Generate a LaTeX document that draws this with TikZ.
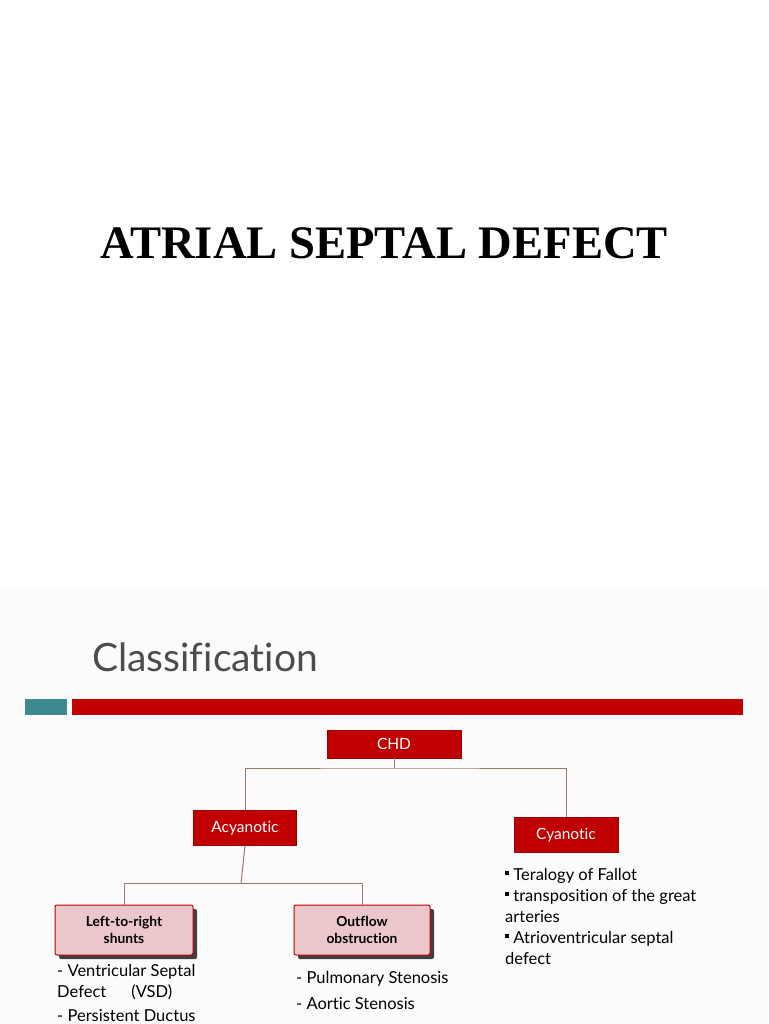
\documentclass[tikz,border=0pt]{standalone}
\usepackage{fontspec}
\usetikzlibrary{shadows}
\setmainfont{Liberation Serif}
\newfontfamily\gfont[Ligatures={NoCommon,NoRare}]{Lato}
\definecolor{dred}{HTML}{C00000}
\definecolor{teal2}{HTML}{3E8A8E}
\definecolor{pinkf}{HTML}{EBC6CA}
\definecolor{conn}{HTML}{9C7A6A}
\newcommand{\bsq}{\raisebox{5pt}{\rule{4pt}{4pt}}}
\begin{document}
\begin{tikzpicture}[x=1pt,y=-1pt,
 redbox/.style={draw=dred!80!black,fill=dred,text=white,font=\gfont\fontsize{15.5}{17}\selectfont,inner sep=0pt},
 pinkbox/.style={draw=dred,line width=1pt,fill=pinkf,rounded corners=2pt,font=\gfont\bfseries\fontsize{13.8}{17}\selectfont,align=center,inner sep=0pt,drop shadow={shadow xshift=4pt,shadow yshift=-4pt,fill=black!75,opacity=1}},
 conline/.style={draw=conn,line width=1pt},
 txt/.style={anchor=west,font=\gfont\fontsize{16.5}{21}\selectfont,align=left,inner sep=0pt}]
\useasboundingbox (0,0) rectangle (768,1024);
\clip (0,0) rectangle (768,1024);
\fill[white] (0,0) rectangle (768,1024);
\fill[black!1] (0,590) rectangle (768,1024);
\node[font=\bfseries\fontsize{46.6}{50}\selectfont] (title) at (384,243) {ATRIAL SEPTAL DEFECT};
\node[font=\gfont\fontsize{39}{42}\selectfont,text=black!70,anchor=west,inner sep=0pt] (cls) at (92,657) {Classification};
\fill[teal2] (25,699) rectangle (67,715);
\fill[dred] (72,699) rectangle (743,715);
\node[redbox,minimum width=134pt,minimum height=28pt] (chd) at (394,744) {CHD};
\node[redbox,minimum width=103pt,minimum height=35pt] (acy) at (245,828) {Acyanotic};
\node[redbox,minimum width=104pt,minimum height=35pt] (cya) at (566,835) {Cyanotic};
\node[pinkbox,minimum width=138pt,minimum height=50pt] (ltr) at (124,930) {Left-to-right\\shunts};
\node[pinkbox,minimum width=136pt,minimum height=50pt] (out) at (362,930) {Outflow\\obstruction};
\coordinate (j1) at (394,768);
\coordinate (j2) at (241,883);
\draw[conline] (chd.south) -- (j1);
\draw[conline] (acy.north) |- (j1) -| (cya.north);
\draw[conline] (acy.south) -- (j2);
\draw[conline] (j2) -| (ltr.north);
\draw[conline] (j2) -| (out.north);
\node[txt,anchor=north west] (t1) at (57,964) {- Ventricular Septal\\Defect\quad\ \ (VSD)\\[3pt]- Persistent Ductus};
\node[txt,anchor=north west] (t2) at (296,971) {- Pulmonary Stenosis\\[5pt]- Aortic Stenosis};
\node[txt,anchor=north west] (t3) at (505,868) {\bsq\ Teralogy of Fallot\\\bsq\ transposition of the great\\arteries\\\bsq\ Atrioventricular septal\\defect};
\end{tikzpicture}
\end{document}
